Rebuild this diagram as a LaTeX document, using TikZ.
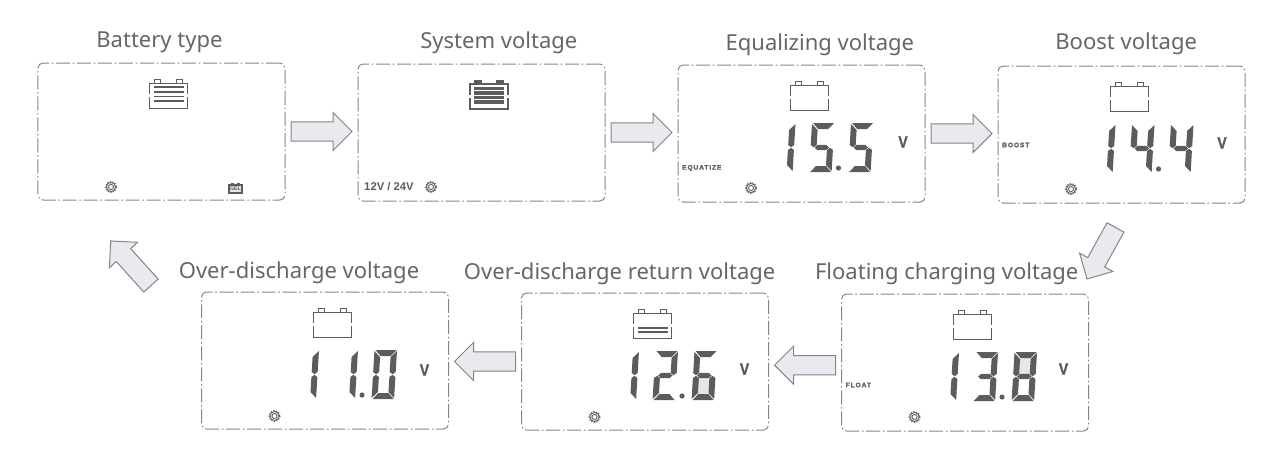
\documentclass[tikz,border=0pt]{standalone}
\usepackage{fontspec}
\setmainfont{Noto Sans}
\newfontfamily\lcdFont[LetterSpace=14,BoldFeatures={FakeBold=1.5}]{Liberation Sans}
\newfontfamily\unitFont[BoldFeatures={FakeBold=1.5}]{Liberation Sans}
\newfontfamily\rangeFont{Liberation Sans}
\usepackage{tikz}
\usetikzlibrary{calc}

\definecolor{titleGray}{HTML}{666666}
\definecolor{edgeGray}{HTML}{858585}
\definecolor{segGray}{HTML}{5C5C5C}
\definecolor{ghostGray}{HTML}{E6E6EC}
\definecolor{arrowFill}{HTML}{E9E9EF}

\tikzstyle{lcdBox} = [rectangle, draw=edgeGray, line width=0.03cm, rounded corners=0.15cm, inner sep=0pt, outer sep=0pt, minimum width=7.41cm, minimum height=4.11cm, dash pattern=on 0.42cm off 0.08cm on 0.05cm off 0.08cm]
\tikzstyle{title} = [text=titleGray, inner sep=0pt, font=\fontsize{18.8}{22}\selectfont]
\tikzstyle{flagText} = [text=segGray, inner sep=0pt, anchor=west, font=\lcdFont\bfseries\fontsize{5.6}{7}\selectfont]
\tikzstyle{rangeText} = [text=segGray, inner sep=0pt, anchor=west, font=\rangeFont\bfseries\fontsize{9.6}{11}\selectfont]
\tikzstyle{unitText} = [text=segGray, inner sep=0pt, font=\unitFont\bfseries\fontsize{14}{16}\selectfont, xscale=0.85]
\tikzstyle{blockArrow} = [draw=edgeGray, fill=arrowFill, line width=0.03cm, line join=miter, to path={
    let \p1=($(\tikztostart)!0.18cm!(\tikztotarget)$), \p2=($(\tikztotarget)!0.18cm!(\tikztostart)$), \p3=($(\p2)!0.57cm!(\p1)$) in
    ($(\p1)!0.29cm!90:(\p2)$) -- ($(\p3)!0.29cm!90:(\p2)$) -- ($(\p3)!0.57cm!90:(\p2)$) -- (\p2) -- ($(\p3)!0.57cm!-90:(\p2)$) -- ($(\p3)!0.29cm!-90:(\p2)$) -- ($(\p1)!0.29cm!-90:(\p2)$) -- cycle}]

% segments of one digit, 22 wide and 49 high
\newcommand{\segA}{(1,0) -- (22,0) -- (16.5,6) -- (6.5,6) -- cycle}
\newcommand{\segB}{(22.5,1) -- (22.5,22) -- (19.5,24.2) -- (16.5,22) -- (16.5,7) -- cycle}
\newcommand{\segC}{(22.5,27) -- (22.5,48) -- (16.5,42) -- (16.5,27) -- (19.5,24.8) -- cycle}
\newcommand{\segD}{(1,49) -- (6.5,43) -- (16.5,43) -- (22,49) -- cycle}
\newcommand{\segE}{(0,27) -- (3,24.8) -- (6,27) -- (6,42) -- (0,48) -- cycle}
\newcommand{\segF}{(0,1) -- (6,7) -- (6,22) -- (3,24.2) -- (0,22) -- cycle}
\newcommand{\segG}{(4,24.5) -- (7,21.8) -- (15.5,21.8) -- (18.5,24.5) -- (15.5,27.2) -- (7,27.2) -- cycle}
\newcommand{\lcdDigit}[2]{
    \begin{scope}[shift={(#1,58)}, xslant=0.06]
        \foreach \seg in {#2} {\fill [segGray] \csname seg\seg\endcsname;}
    \end{scope}
}
\newcommand{\lcdGhost}[2]{
    \begin{scope}[shift={(#1,58)}, xslant=0.06]
        \fill [ghostGray] (6,#2) rectangle (16.5,#2+16);
    \end{scope}
}
\newcommand{\lcdDot}{\fill [segGray] (160.5,103) circle (2.6);}
\newcommand{\batteryIcon}[2]{
    \begin{scope}[shift={(0,16)}]
        \draw [edgeGray!70!black, line width=#1, fill=#2] (117,4) -- (117,0.5) -- (123,0.5) -- (123,4);
        \draw [edgeGray!70!black, line width=#1, fill=#2] (139,4) -- (139,0.5) -- (145,0.5) -- (145,4);
        \draw [edgeGray!70!black, line width=#1] (112,15) -- (112,4) -- (150,4) -- (150,15);
        \draw [edgeGray!70!black, line width=#1] (112,18) -- (112,29) -- (150,29) -- (150,18);
    \end{scope}
}
\newcommand{\batteryBars}[2]{
    \foreach \barY in {#2} {\draw [segGray, line width=#1] (116,16+\barY) -- (146,16+\barY);}
}
\newcommand{\gearIcon}[1]{
    \draw [edgeGray!80!black, line width=0.03cm] (73,#1) circle (2.6);
    \draw [edgeGray!80!black, line width=0.03cm] (73,#1) circle (4.6);
    \draw [edgeGray!80!black, line width=0.04cm, dash pattern=on 0.035cm off 0.045cm] (73,#1) circle (5.5);
}

\begin{document}
\begin{tikzpicture}[x=0.03cm, y=-0.03cm, node distance=9.6cm]

    \useasboundingbox (0,0) rectangle (1280,468);

    % Nodes
    \node (boxBattery) [lcdBox] at (161.5,131.5) {};
    \node (boxSystem) [lcdBox, right of=boxBattery, yshift=-0.03cm] {};
    \node (boxEqualize) [lcdBox, right of=boxSystem, yshift=-0.03cm] {};
    \node (boxBoost) [lcdBox, right of=boxEqualize, yshift=-0.03cm] {};
    \node (boxFloat) [lcdBox, below of=boxBoost, node distance=6.84cm, xshift=-4.695cm] {};
    \node (boxReturn) [lcdBox, left of=boxFloat, yshift=0.03cm] {};
    \node (boxOver) [lcdBox, left of=boxReturn, yshift=0.03cm] {};

    \node (titleBattery) [title, above of=boxBattery, node distance=2.69cm, xshift=-0.06cm] {Battery type};
    \node (titleSystem) [title, above of=boxSystem, node distance=2.69cm, xshift=0.52cm] {System voltage};
    \node (titleEqualize) [title, above of=boxEqualize, node distance=2.67cm, xshift=0.55cm] {Equalizing voltage};
    \node (titleBoost) [title, above of=boxBoost, node distance=2.71cm, xshift=0.14cm] {Boost voltage};
    \node (titleFloat) [title, above of=boxFloat, node distance=2.66cm, xshift=-0.55cm] {Floating charging voltage};
    \node (titleReturn) [title, above of=boxReturn, node distance=2.64cm, xshift=-0.76cm] {Over-discharge return voltage};
    \node (titleOver) [title, above of=boxOver, node distance=2.64cm, xshift=-0.78cm] {Over-discharge voltage};

    % Battery type
    \begin{scope}[shift={(boxBattery.north west)}]
        \batteryIcon{0.03cm}{white}
        \batteryBars{0.05cm}{8,13,17.5,22}
        \gearIcon{124}
        \draw [segGray, line width=0.04cm, fill=ghostGray] (191,122) rectangle (204,130);
        \fill [segGray] (193,120) rectangle (196,122) (199,120) rectangle (202,122);
        \node (gelMark) [text=segGray, inner sep=0pt, font=\rangeFont\bfseries\fontsize{4.5}{5}\selectfont] at (197.5,126) {GEL};
    \end{scope}

    % System voltage
    \begin{scope}[shift={(boxSystem.north west)}]
        \batteryIcon{0.06cm}{segGray}
        \batteryBars{0.115cm}{8.5,13,17.5,22}
        \gearIcon{123}
        \node (rangeMark) [rangeText] at (6,123) {12V / 24V};
    \end{scope}

    % Equalizing voltage
    \begin{scope}[shift={(boxEqualize.north west)}]
        \batteryIcon{0.03cm}{white}
        \lcdDigit{95}{B,C}
        \lcdDigit{134}{A,F,G,C,D}
        \lcdDigit{173}{A,F,G,C,D}
        \lcdDot
        \gearIcon{123}
        \node (equalizeMark) [flagText] at (4,103) {EQUATIZE};
        \node (equalizeUnit) [unitText] at (225,77) {V};
    \end{scope}

    % Boost voltage
    \begin{scope}[shift={(boxBoost.north west)}]
        \batteryIcon{0.03cm}{white}
        \lcdDigit{95}{B,C}
        \lcdDigit{134}{F,G,B,C}
        \lcdDigit{173}{F,G,B,C}
        \lcdDot
        \gearIcon{123}
        \node (boostMark) [flagText] at (4,79) {BOOST};
        \node (boostUnit) [unitText] at (224,77) {V};
    \end{scope}

    % Floating charging voltage
    \begin{scope}[shift={(boxFloat.north west)}]
        \batteryIcon{0.03cm}{white}
        \lcdGhost{173}{6}
        \lcdDigit{95}{B,C}
        \lcdDigit{134}{A,B,G,C,D}
        \lcdDigit{173}{A,B,C,D,E,F,G}
        \lcdDot
        \gearIcon{123}
        \node (floatMark) [flagText] at (4,91) {FLOAT};
        \node (floatUnit) [unitText] at (222,75) {V};
    \end{scope}

    % Over-discharge return voltage
    \begin{scope}[shift={(boxReturn.north west)}]
        \batteryIcon{0.03cm}{white}
        \batteryBars{0.045cm}{19,23}
        \lcdGhost{173}{27}
        \lcdDigit{95}{B,C}
        \lcdDigit{134}{A,B,G,E,D}
        \lcdDigit{173}{A,F,G,E,C,D}
        \lcdDot
        \gearIcon{124}
        \node (returnUnit) [unitText] at (223,76) {V};
    \end{scope}

    % Over-discharge voltage
    \begin{scope}[shift={(boxOver.north west)}]
        \batteryIcon{0.03cm}{white}
        \lcdDigit{95}{B,C}
        \lcdDigit{134}{B,C}
        \lcdDigit{173}{A,B,C,D,E,F}
        \lcdDot
        \gearIcon{124}
        \node (overUnit) [unitText] at (223,78) {V};
    \end{scope}

    \coordinate (boostOut) at (1118.4,222.2);
    \coordinate (floatIn) at (1084.1,284.2);
    \coordinate (floatOut) at ([yshift=-0.08cm]boxFloat.west);
    \coordinate (overOut) at (155,290);
    \coordinate (batteryIn) at (106.7,236.5);

    % Arrows
    \draw [blockArrow] (boxBattery.east) to (boxBattery.east -| boxSystem.west);
    \draw [blockArrow] (boxSystem.east) to (boxSystem.east -| boxEqualize.west);
    \draw [blockArrow] (boxEqualize.east) to (boxEqualize.east -| boxBoost.west);
    \draw [blockArrow] (boostOut) to (floatIn);
    \draw [blockArrow] (floatOut) to (floatOut -| boxReturn.east);
    \draw [blockArrow] (boxReturn.west) to (boxReturn.west -| boxOver.east);
    \draw [blockArrow] (overOut) to (batteryIn);

\end{tikzpicture}
\end{document}
